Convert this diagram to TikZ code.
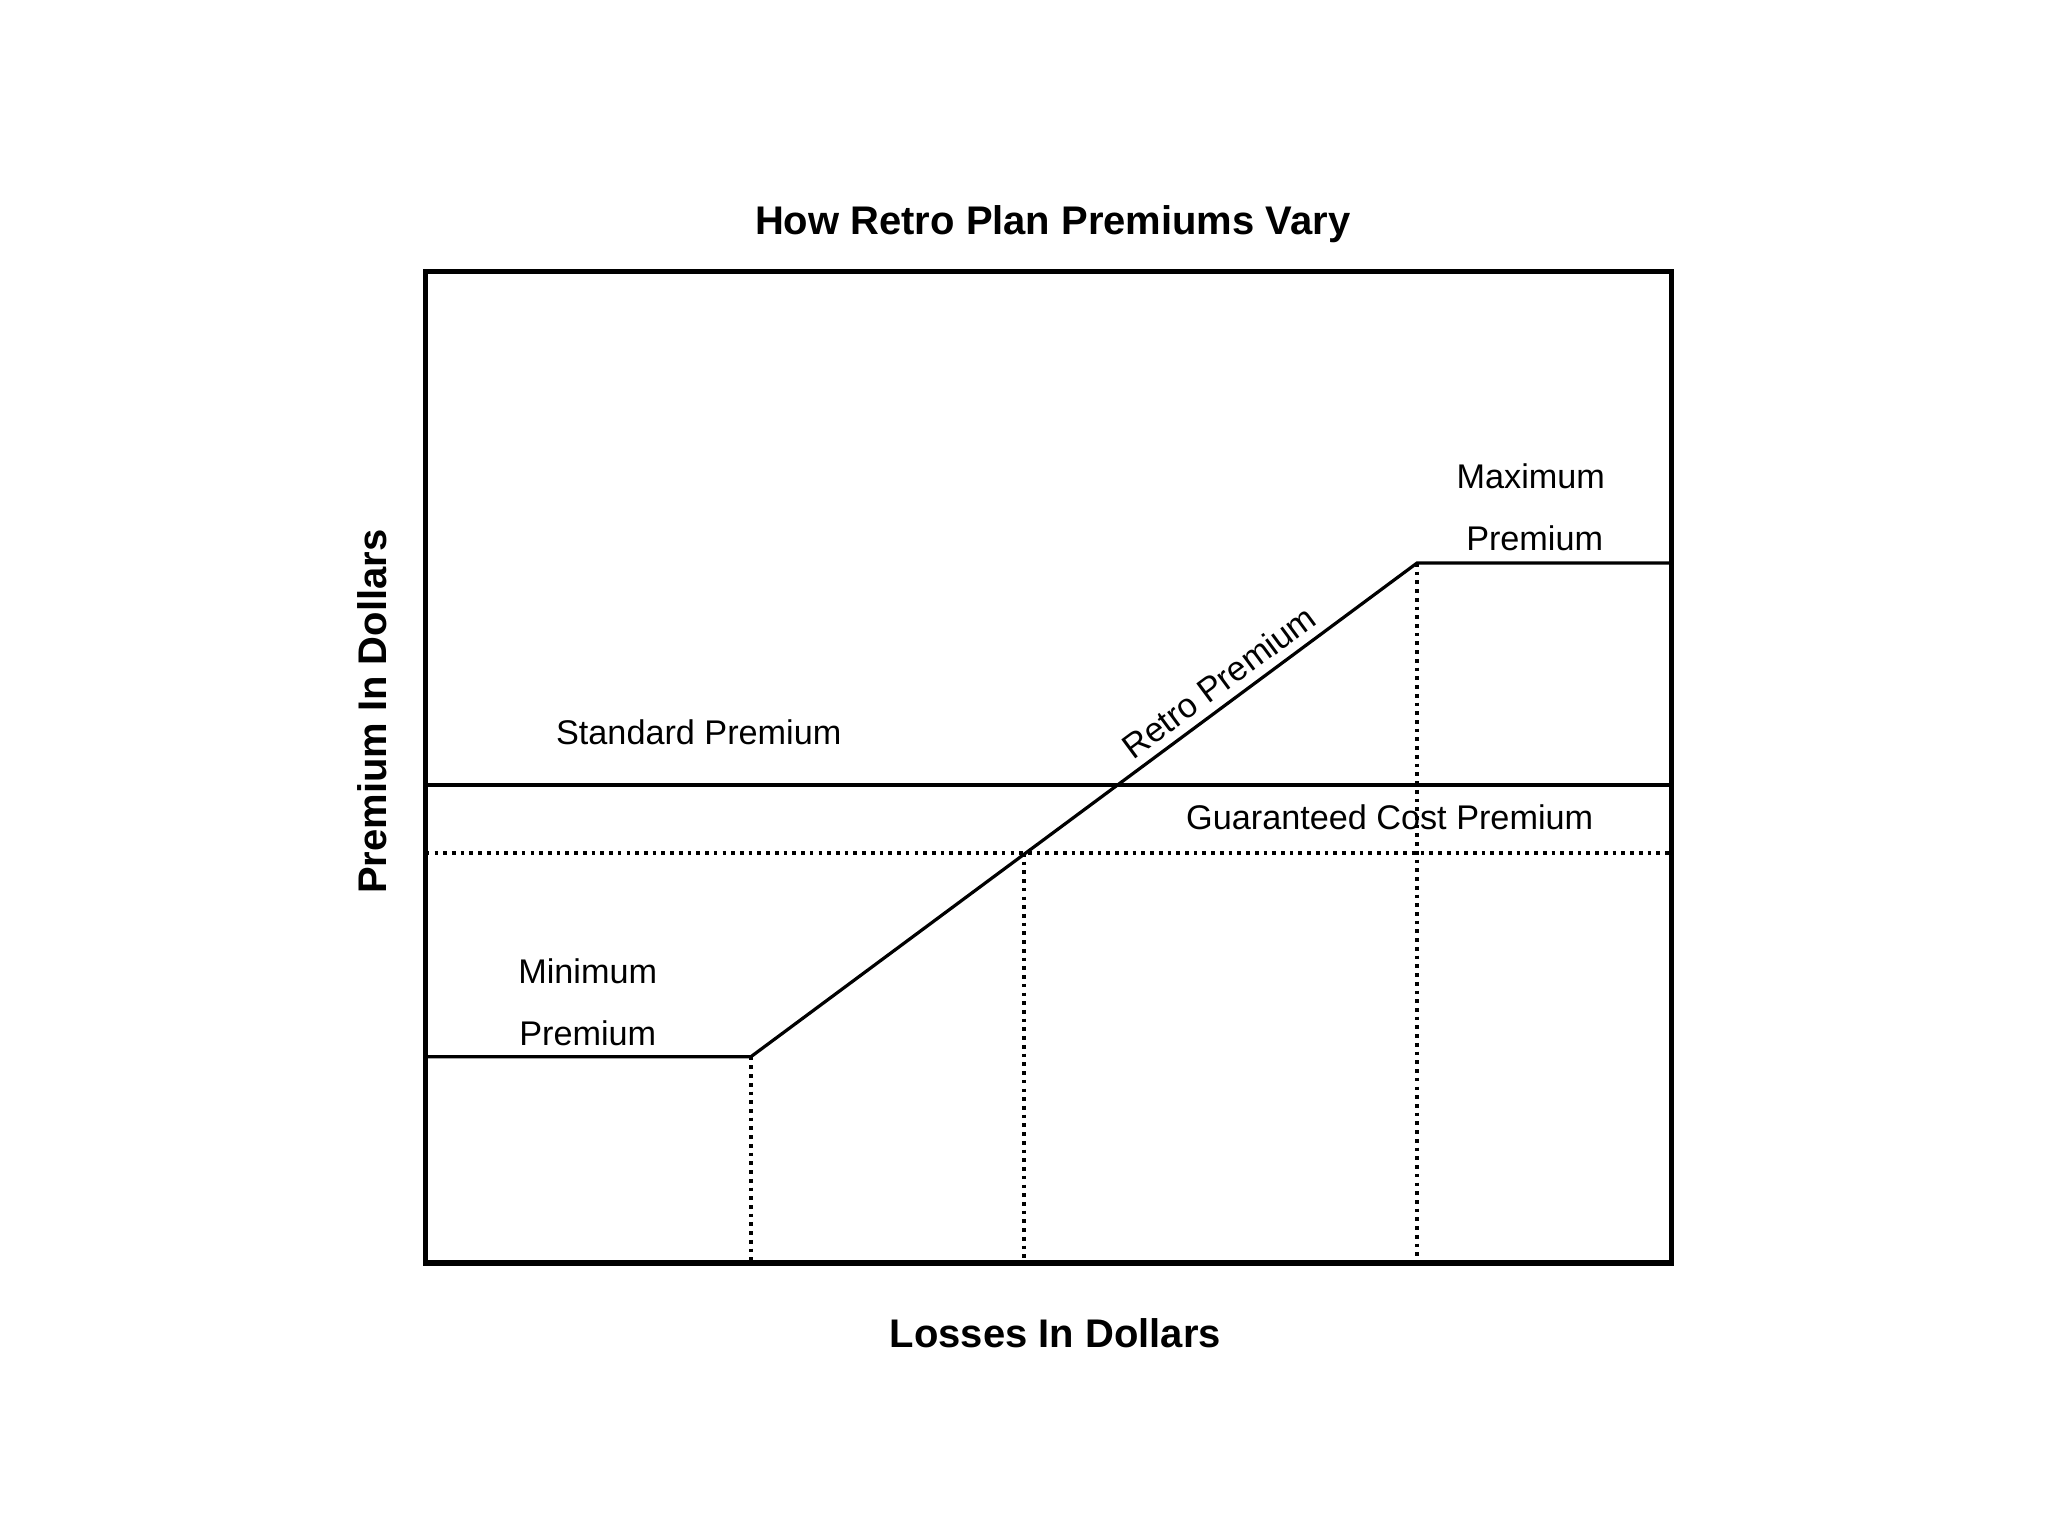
\documentclass[tikz,border=0pt]{standalone}
\usepackage{fontspec}
\setmainfont{Liberation Sans}
\begin{document}
\begin{tikzpicture}[x=0.01cm,y=-0.01cm,
  lbl/.style={font=\fontsize{7.45}{8}\selectfont,inner sep=0pt},
  ttl/.style={font=\fontsize{8.7}{10}\selectfont\bfseries,inner sep=0pt},
  solidln/.style={line width=0.7pt},
  dotln/.style={line width=0.8pt,dash pattern=on 0.8pt off 1.1pt}]
\useasboundingbox (0,0) rectangle (1568,1176);
\coordinate (bl) at (326,967);
\coordinate (tr) at (1280,208);
\coordinate (s1) at (326,601); \coordinate (s2) at (1280,601);
\coordinate (g1) at (326,653); \coordinate (g2) at (1280,653);
\coordinate (m0) at (326,809); \coordinate (m1) at (575,809);
\coordinate (x1) at (1085,431); \coordinate (x2) at (1280,431);
\coordinate (v1) at (575,967); \coordinate (v2a) at (784,653); \coordinate (v2) at (784,967);
\coordinate (v3) at (1085,967);
\draw[solidln] (s1) -- (s2);
\draw[dotln] (g1) -- (g2);
\draw[solidln] (m0) -- (m1) -- (x1) -- (x2);
\draw[dotln] (m1) -- (v1);
\draw[dotln] (v2a) -- (v2);
\draw[dotln] (x1) -- (v3);
\draw[line width=1.1pt] (bl) rectangle (tr);
\node[ttl] (title) at (806,172) {How Retro Plan Premiums Vary};
\node[ttl] (xl) at (808,1021) {Losses In Dollars};
\node[ttl,rotate=90] (yl) at (285,545) {Premium In Dollars};
\node[lbl] (sp) at (535,561) {Standard Premium};
\node[lbl] (gp) at (1064,626) {Guaranteed Cost Premium};
\node[lbl] (mn1) at (450,744) {Minimum};
\node[lbl] (mn2) at (450,791) {Premium};
\node[lbl] (mx1) at (1172,365) {Maximum};
\node[lbl] (mx2) at (1175,412) {Premium};
\node[lbl,rotate=36.5] (rp) at (933,522) {Retro Premium};
\end{tikzpicture}
\end{document}
